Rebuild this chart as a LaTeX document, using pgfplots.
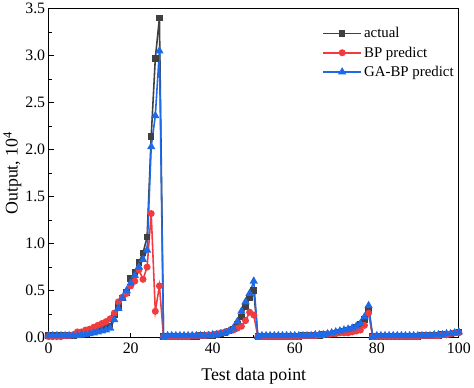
\documentclass[border=0pt]{standalone}
\usepackage{pgfplots}
\pgfplotsset{compat=1.18}
\usepackage{fontspec}
\setmainfont{Liberation Serif}
\definecolor{cact}{RGB}{64,64,64}
\definecolor{cbp}{RGB}{240,60,64}
\definecolor{cga}{RGB}{30,105,230}
\pgfplotstableread{
x a b g
0 0.02 0.01 0.02
1 0.02 0.01 0.02
2 0.02 0.01 0.02
3 0.02 0.01 0.02
4 0.02 0.02 0.02
5 0.02 0.02 0.02
6 0.02 0.03 0.02
7 0.03 0.06 0.02
8 0.03 0.06 0.03
9 0.04 0.08 0.03
10 0.05 0.09 0.04
11 0.06 0.11 0.05
12 0.07 0.13 0.06
13 0.09 0.15 0.07
14 0.10 0.17 0.08
15 0.12 0.20 0.10
16 0.24 0.26 0.19
17 0.33 0.38 0.31
18 0.42 0.43 0.42
19 0.48 0.47 0.50
20 0.63 0.55 0.58
21 0.70 0.60 0.66
22 0.80 0.72 0.75
23 0.90 0.62 0.83
24 1.07 0.75 0.93
25 2.14 1.32 2.03
26 2.97 0.28 2.36
27 3.40 0.55 3.05
28 0.01 0.01 0.01
29 0.01 0.01 0.02
30 0.01 0.01 0.02
31 0.01 0.01 0.02
32 0.01 0.01 0.02
33 0.01 0.01 0.02
34 0.01 0.01 0.02
35 0.01 0.02 0.02
36 0.01 0.02 0.02
37 0.02 0.02 0.02
38 0.02 0.02 0.02
39 0.02 0.03 0.02
40 0.02 0.03 0.03
41 0.03 0.04 0.03
42 0.04 0.05 0.04
43 0.05 0.06 0.05
44 0.07 0.07 0.07
45 0.09 0.08 0.10
46 0.14 0.10 0.17
47 0.22 0.12 0.28
48 0.33 0.18 0.38
49 0.42 0.27 0.47
50 0.50 0.24 0.60
51 0.01 0.01 0.01
52 0.01 0.01 0.02
53 0.01 0.01 0.02
54 0.01 0.01 0.02
55 0.01 0.01 0.02
56 0.01 0.01 0.02
57 0.01 0.01 0.02
58 0.01 0.01 0.02
59 0.01 0.01 0.02
60 0.01 0.01 0.02
61 0.01 0.01 0.02
62 0.02 0.02 0.02
63 0.02 0.02 0.02
64 0.02 0.02 0.02
65 0.02 0.02 0.03
66 0.02 0.03 0.03
67 0.03 0.03 0.03
68 0.03 0.04 0.04
69 0.04 0.04 0.05
70 0.05 0.04 0.06
71 0.06 0.05 0.07
72 0.07 0.05 0.08
73 0.08 0.05 0.09
74 0.09 0.06 0.10
75 0.11 0.07 0.12
76 0.14 0.08 0.15
77 0.19 0.13 0.22
78 0.30 0.26 0.34
79 0.01 0.01 0.01
80 0.01 0.01 0.02
81 0.01 0.01 0.02
82 0.01 0.01 0.02
83 0.01 0.01 0.02
84 0.01 0.01 0.02
85 0.01 0.01 0.02
86 0.01 0.01 0.02
87 0.01 0.01 0.02
88 0.01 0.01 0.02
89 0.01 0.01 0.02
90 0.01 0.01 0.02
91 0.02 0.02 0.02
92 0.02 0.02 0.02
93 0.02 0.02 0.02
94 0.02 0.02 0.03
95 0.02 0.02 0.03
96 0.03 0.03 0.03
97 0.03 0.03 0.04
98 0.04 0.04 0.04
99 0.05 0.05 0.05
100 0.06 0.05 0.06
}\datatable
\begin{document}
\begin{tikzpicture}
\begin{axis}[
  scale only axis,
  width=414pt, height=332pt,
  xmin=0, xmax=100, ymin=0, ymax=3.5,
  xtick={0,20,...,100},
  ytick={0,0.5,...,3.5},
  minor x tick num=1, minor y tick num=1,
  tick align=inside,
  xtick pos=bottom, ytick pos=left,
  major tick length=5pt, minor tick length=3pt,
  axis line style={line width=0.9pt},
  tick style={line width=0.8pt, black},
  /pgf/number format/assume math mode=true,
  /pgf/number format/fixed,
  /pgf/number format/fixed zerofill,
  yticklabel style={/pgf/number format/precision=1},
  xticklabel style={/pgf/number format/precision=0, /pgf/number format/fixed zerofill=false, yshift=-2pt},
  ticklabel style={font=\fontsize{16}{19}\selectfont},
  xlabel={Test data point},
  ylabel={Output, 10\textsuperscript{4}},
  label style={font=\fontsize{18}{21}\selectfont},
  xlabel style={yshift=-8pt},
  ylabel style={yshift=-3pt},
  legend style={draw=none, fill=none, at={(1.0,0.955)}, anchor=north east,
    font=\fontsize{15}{17}\selectfont, row sep=3.5pt, cells={anchor=west}},
  legend cell align=left,
  legend image code/.code={
    \draw[line width=1.6pt, mark repeat=2,mark phase=2] plot coordinates {(0cm,0cm) (0.68cm,0cm) (1.36cm,0cm)};
  },
]
\addplot[color=cact, line width=1.6pt, mark=square*, mark size=2.5pt, mark options={solid}] table[x=x,y=a]{\datatable};
\addlegendentry{actual}
\addplot[color=cbp, line width=1.6pt, mark=*, mark size=2.7pt] table[x=x,y=b]{\datatable};
\addlegendentry{BP predict}
\addplot[color=cga, line width=1.6pt, mark=triangle*, mark size=3.3pt] table[x=x,y=g]{\datatable};
\addlegendentry{GA-BP predict}
\end{axis}
\end{tikzpicture}
\end{document}
